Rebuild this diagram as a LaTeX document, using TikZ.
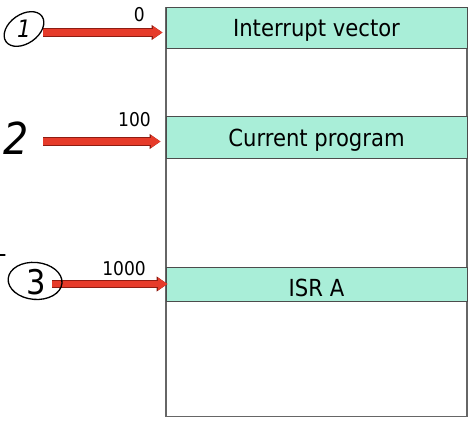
\documentclass[tikz,border=0pt]{standalone}
\usepackage{fontspec}
\setmainfont{DejaVu Sans Condensed}
\usetikzlibrary{shapes.geometric, arrows.meta, positioning, calc}
\definecolor{bandfill}{HTML}{A9EED8}
\definecolor{ptrred}{HTML}{E63B2A}
\definecolor{ptrdark}{HTML}{8E1C12}
\tikzset{
    memory/.style={rectangle, draw=black!60, line width=1.5pt, minimum width=301pt, minimum height=409pt, inner sep=0pt},
    band/.style={rectangle, draw=black!70, line width=1pt, fill=bandfill, minimum width=301pt, inner sep=0pt,
        text height=16.8pt, text depth=0pt, font=\fontsize{23.5}{26}\selectfont},
    addr/.style={anchor=base east, inner sep=0pt, font=\fontsize{19}{22}\selectfont},
    ptr/.style={draw=ptrred, line width=6.5pt, -{Triangle[length=9.5pt, width=12pt]},
        preaction={draw=ptrdark, line width=8.5pt, -{Triangle[length=11pt, width=14.5pt]}}},
    handtext/.style={inner sep=0pt, font=\itshape},
    handline/.style={draw=black, line width=1.3pt, line cap=round}
}
\begin{document}
\begin{tikzpicture}[x=1pt, y=-1pt]
    \useasboundingbox (0,0) rectangle (474,430);

    % --- Memory ---
    \node (mem) [memory] at (316.5,212) {};
    \node (vec) [band, below=0pt of mem.north, minimum height=41.5pt] {Interrupt vector};
    \node (cur) [band, below=67pt of vec, minimum height=42pt] {Current program};
    \node (isr) [band, below=108pt of cur, minimum height=34pt, text height=22.8pt] {ISR A};

    % --- Pointers ---
    \coordinate (t1) at (43,32.5);
    \coordinate (t2) at (43,141.5);
    \coordinate (t3) at (52,284);
    \draw [ptr, shorten >=3pt] (t1) -- (vec.west |- t1);
    \draw [ptr, shorten >=5pt] (t2) -- (cur.west |- t2);
    \draw [ptr] (t3) -- ($(isr.west |- t3)+(2,0)$);

    \node (a0) [addr] at (145,22) {0};
    \node (a100) [addr] at (151,127) {100};
    \node (a1000) [addr] at (146,276) {1000};

    % --- Handwritten marks ---
    \node (m1) [handtext, font=\fontsize{24}{26}\itshape] at (24,29) {1};
    \draw [handline, rotate around={35:(m1.center)}] (m1.center) ellipse [x radius=22pt, y radius=14.5pt];
    \node (m2) [handtext, font=\fontsize{44}{46}\itshape] at (16,138) {2};
    \node (m3) [handtext, font=\fontsize{34}{36}\selectfont] at (36,282) {3};
    \draw [handline, rotate around={-5:(m3.center)}] (35,281) ellipse [x radius=27pt, y radius=18.5pt];
    \draw [handline] (0,255) -- (5,255);
\end{tikzpicture}
\end{document}
